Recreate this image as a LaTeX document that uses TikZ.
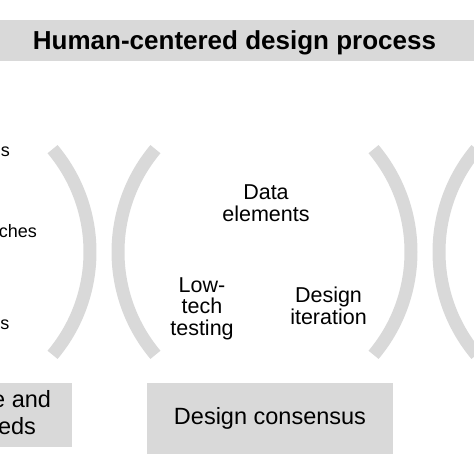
\documentclass[tikz,border=0pt]{standalone}
\usepackage{fontspec}
\setmainfont{Liberation Sans}
\usetikzlibrary{calc}

\definecolor{Panelcolor}{HTML}{D9D9D9} % color of the bars, boxes and arcs

\newcommand{\stagearcs}[2]
{
\def\m{#1} % x position in the middle of the two arcs
\def\arccolor{#2} % color of the two arcs

\pgfmathsetmacro{\cl}{\m-\gap-\Rarc} % center of the closing arc
\pgfmathsetmacro{\cr}{\m+\gap+\Rarc} % center of the opening arc

\draw[color=\arccolor, line width=13pt] ([shift={(\cl pt,222pt)}]-40:\Rarc pt) arc (-40:40:\Rarc pt);
\draw[color=\arccolor, line width=13pt] ([shift={(\cr pt,222pt)}]140:\Rarc pt) arc (140:220:\Rarc pt);
}

\tikzset{
  stagebox/.style={fill=Panelcolor, inner sep=0pt, align=center,
    font=\fontsize{23.5}{27}\selectfont},
  stagetext/.style={inner sep=0pt, align=center,
    font=\fontsize{21.5}{21.5}\selectfont},
  sidetext/.style={inner sep=0pt, anchor=base east,
    font=\fontsize{18}{18}\selectfont}
}

\begin{document}
\begin{tikzpicture}[x=1pt,y=1pt]
\def\Rarc{160} % radius of the stage arcs
\def\gap{14} % half distance between two arcs

\useasboundingbox (0,0) rectangle (474,474);
\clip (0,0) rectangle (474,474);

% Title bar
\fill[Panelcolor] (-10,413) rectangle (484,454);
\node[inner sep=0pt, anchor=base, font=\bfseries\fontsize{26}{26}\selectfont] (title) at (234.5,424) {Human-centered design process};

% Stage arcs
\foreach \x in {104,425}
\stagearcs{\x}{Panelcolor};

% Previous stage
\node[sidetext] (goals) at (10,317) {Goals};
\node[sidetext] (approaches) at (37,236) {Approaches};
\node[sidetext] (tools) at (9.5,144) {Tools};

% Current stage
\node[stagetext] (data) at (266,270.7) {Data\\elements};
\node[stagetext] (lowtech) at (202,165.4) {Low-\\tech\\testing};
\node[stagetext] (iteration) at (328.5,168.2) {Design\\iteration};

% Stage results
\node[stagebox, minimum width=204pt, minimum height=64pt] (needs) at (-30,59) {Knowledge and\\family needs};
\node[stagebox, minimum width=246pt, minimum height=71pt] (consensus) at (270,55.5) {Design consensus};
\end{tikzpicture}
\end{document}
